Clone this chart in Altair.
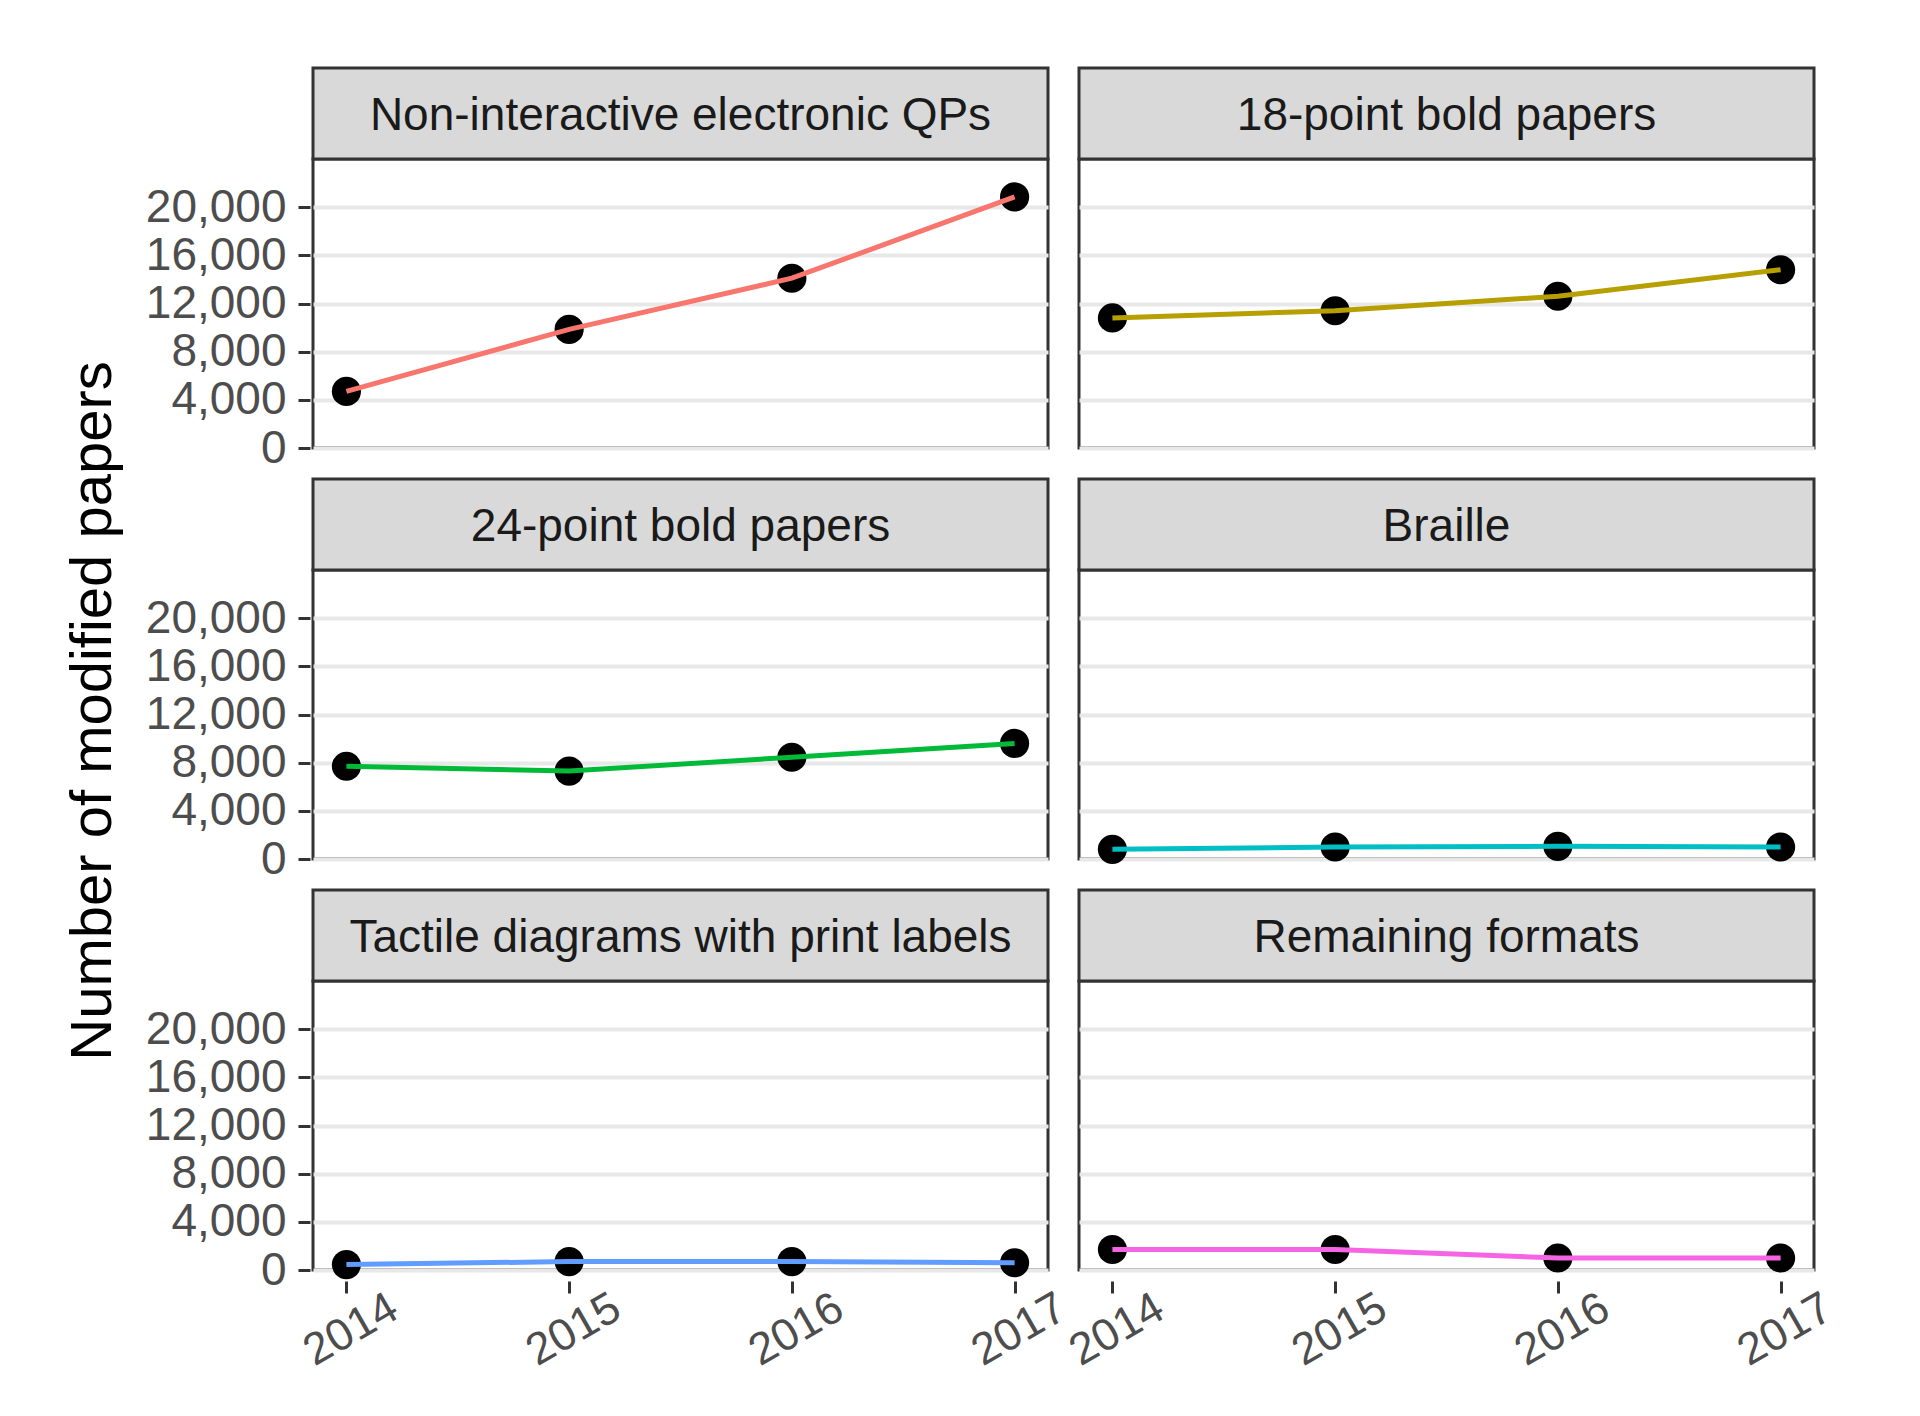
import altair as alt
import pandas as pd

# ---- data ----
years = [2014, 2015, 2016, 2017]
formats = [
    "Non-interactive electronic QPs",
    "18-point bold papers",
    "24-point bold papers",
    "Braille",
    "Tactile diagrams with print labels",
    "Remaining formats",
]
non_interactive = [4700, 9850, 14100, 20850]
bold18 = [10800, 11400, 12600, 14800]
bold24 = [7700, 7300, 8450, 9600]
braille = [800, 1000, 1050, 1000]
tactile = [450, 700, 700, 600]
remaining = [1700, 1700, 1000, 1000]
series = [non_interactive, bold18, bold24, braille, tactile, remaining]
colors = ["#F8766D", "#B79F00", "#00BA38", "#00BFC4", "#619CFF", "#F564E3"]
y_ticks = [0, 4000, 8000, 12000, 16000, 20000]

rows = []
for fmt, vals in zip(formats, series):
    for yr, v in zip(years, vals):
        rows.append({"format": fmt, "year": yr, "papers": v})
df = pd.DataFrame(rows)

FONT = "Liberation Sans"
PW, PH, SH = 735, 289, 91

x_enc = alt.X(
    "year:Q",
    scale=alt.Scale(domain=[2013.85, 2017.15], nice=False, zero=False),
    axis=alt.Axis(
        values=years, format="d", grid=False, domain=False,
        tickSize=12, tickWidth=3, tickColor="#333333",
        labelFontSize=45, labelColor="#4d4d4d", labelAngle=330,
        labelAlign="center", labelBaseline="middle", labelPadding=36,
        labelOffset=4, labelFlush=False, labelOverlap=False, title=None,
    ),
)
y_enc = alt.Y(
    "papers:Q",
    scale=alt.Scale(domain=[0, 24000], nice=False),
    axis=alt.Axis(
        values=y_ticks, format=",.0f", grid=True, gridColor="#e8e8e8", gridWidth=4,
        domain=False, tickSize=12, tickWidth=3, tickColor="#333333",
        labelFontSize=46, labelColor="#4d4d4d", labelPadding=12,
        labelFlush=False, labelOverlap=False, title=None,
    ),
)

strip_rect = alt.Chart().mark_rect(
    fill="#d9d9d9", stroke="#333333", strokeWidth=3
).encode(
    x=alt.value(0), x2=alt.value(PW), y=alt.value(-SH), y2=alt.value(0)
).transform_filter(alt.datum.year == 2014)

strip_text = alt.Chart().mark_text(
    fontSize=46, color="#1a1a1a", baseline="middle", align="center"
).encode(
    x=alt.value(PW / 2), y=alt.value(-SH / 2 + 2), text="format:N"
).transform_filter(alt.datum.year == 2014)

base = alt.Chart().encode(x=x_enc, y=y_enc)
points = base.mark_circle(size=850, color="black", opacity=1)
line = base.mark_line(strokeWidth=5).encode(
    color=alt.Color("format:N", scale=alt.Scale(domain=formats, range=colors), legend=None)
)

layered = alt.layer(strip_rect, strip_text, points, line, data=df).properties(width=PW, height=PH)

chart = layered.facet(
    facet=alt.Facet(
        "format:N", sort=formats, title=None,
        header=alt.Header(labels=False, title=None, labelExpr="''", labelFontSize=1, labelPadding=0),
    ),
    columns=2,
    spacing={"row": 16, "column": 25},
).properties(
    title=alt.TitleParams(
        text="Number of modified papers", orient="left", anchor="middle",
        fontSize=58, fontWeight="normal", color="black", font=FONT, offset=22, dx=8,
    ),
    padding={"left": 65, "top": 64, "right": 10, "bottom": 10},
).configure(
    font=FONT, background="white"
).configure_view(
    stroke="#333333", strokeWidth=3, fill="white"
)

chart.save("out.html", embed_options={"renderer": "svg", "actions": False})
